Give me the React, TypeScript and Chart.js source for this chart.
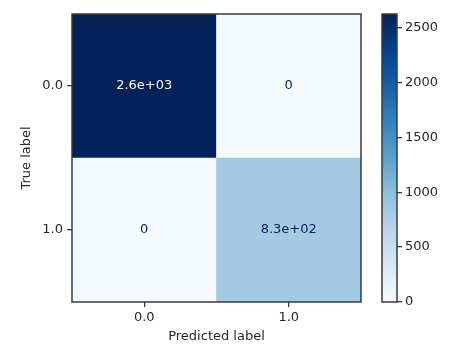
import React, { useEffect, useRef } from "react";
import { Chart, registerables } from "chart.js";
Chart.register(...registerables);

// ---- data ----
const predictedLabels = ["0.0", "1.0"];
const trueLabels = ["0.0", "1.0"];
const rowTrue0 = [2623, 0];
const rowTrue1 = [0, 830];
const colorbarTicks = [0, 500, 1000, 1500, 2000, 2500];
const xTitle = "Predicted label";
const yTitle = "True label";

// ---- styles ----
const FONT = "'DejaVu Sans', sans-serif";
const TEXT = "#262626";
const EDGE = "#3a3a3a";
const GAMMA = 1.2;
const BLUES = [
  [0.0, [247, 251, 255]],
  [0.125, [222, 235, 247]],
  [0.25, [198, 219, 239]],
  [0.375, [158, 202, 225]],
  [0.5, [107, 174, 214]],
  [0.625, [66, 146, 198]],
  [0.75, [33, 113, 181]],
  [0.875, [8, 81, 156]],
  [1.0, [8, 48, 107]],
] as [number, number[]][];

function blues(t: number): string {
  t = Math.max(0, Math.min(1, t));
  let c = BLUES[BLUES.length - 1][1];
  for (let i = 1; i < BLUES.length; i++) {
    const [t1, c1] = BLUES[i];
    const [t0, c0] = BLUES[i - 1];
    if (t <= t1) {
      const f = (t - t0) / (t1 - t0);
      c = c0.map((v, k) => v + (c1[k] - v) * f);
      break;
    }
  }
  const g = c.map((v) => Math.round(255 * Math.pow(v / 255, GAMMA)));
  return `rgb(${g[0]},${g[1]},${g[2]})`;
}

function fmt2g(v: number): string {
  if (v === 0) return "0";
  const e = Math.floor(Math.log10(Math.abs(v)));
  if (e < -4 || e >= 2) {
    let ee = e;
    let ms = (v / Math.pow(10, ee)).toFixed(1);
    if (parseFloat(ms) >= 10) { ee += 1; ms = (v / Math.pow(10, ee)).toFixed(1); }
    const sign = ee < 0 ? "-" : "+";
    const es = String(Math.abs(ee)).padStart(2, "0");
    return `${ms}e${sign}${es}`;
  }
  return String(parseFloat(v.toPrecision(2)));
}

const vmax = Math.max(...rowTrue0, ...rowTrue1);
const vmin = 0;

const boxPlugin = {
  id: "box",
  afterDraw(chart: any) {
    const { ctx, chartArea: a } = chart;
    ctx.save();
    ctx.strokeStyle = EDGE;
    ctx.lineWidth = 1.5;
    ctx.strokeRect(a.left, a.top, a.right - a.left, a.bottom - a.top);
    ctx.restore();
  },
};

const cellTextPlugin = {
  id: "cellText",
  afterDatasetsDraw(chart: any) {
    const { ctx } = chart;
    ctx.save();
    ctx.font = `13px ${FONT}`;
    ctx.textAlign = "center";
    ctx.textBaseline = "middle";
    chart.data.datasets.forEach((ds: any, di: number) => {
      const meta = chart.getDatasetMeta(di);
      meta.data.forEach((el: any, i: number) => {
        const v = ds.values[i];
        const thresh = (vmax + vmin) / 2;
        ctx.fillStyle = v > thresh ? blues(0) : blues(1);
        const cy = (el.y + el.base) / 2;
        ctx.fillText(fmt2g(v), el.x, cy);
      });
    });
    ctx.restore();
  },
};

export default function App() {
  const mainRef = useRef<HTMLCanvasElement>(null);
  const barRef = useRef<HTMLCanvasElement>(null);

  useEffect(() => {
    document.body.style.margin = "0";
    Chart.defaults.font.family = FONT;
    Chart.defaults.font.size = 13;
    Chart.defaults.color = TEXT;

    const rows = [rowTrue1, rowTrue0]; // bottom to top
    const datasets = rows.map((row, r) => ({
      label: trueLabels[trueLabels.length - 1 - r],
      data: predictedLabels.map(() => [r, r + 1]),
      values: row,
      backgroundColor: row.map((v) => blues((v - vmin) / (vmax - vmin))),
      borderWidth: 0,
      categoryPercentage: 1,
      barPercentage: 1,
    }));

    const main = new Chart(mainRef.current!, {
      type: "bar",
      data: { labels: predictedLabels, datasets: datasets as any },
      options: {
        animation: false,
        responsive: false,
        layout: { padding: { top: 14, right: 9, left: 0, bottom: 0 } },
        plugins: { legend: { display: false }, tooltip: { enabled: false } },
        scales: {
          x: {
            type: "category",
            stacked: true,
            offset: true,
            grid: { offset: false, drawOnChartArea: false, drawTicks: true, tickLength: 5, tickColor: EDGE, lineWidth: 1.3 },
            border: { display: false },
            ticks: { padding: 3, color: TEXT, font: { size: 13 } },
            title: { display: true, text: xTitle, color: TEXT, font: { size: 13 }, padding: { top: 0, bottom: 10 } },
            afterFit(scale: any) { scale.height = 52; },
          },
          y: {
            type: "linear",
            min: 0,
            max: trueLabels.length,
            stacked: false,
            grid: { drawOnChartArea: false, drawTicks: true, tickLength: 5, tickColor: EDGE, lineWidth: 1.3 },
            border: { display: false },
            afterBuildTicks(scale: any) {
              scale.ticks = trueLabels.map((_, i) => ({ value: i + 0.5 }));
            },
            ticks: {
              padding: 4,
              color: TEXT,
              font: { size: 13 },
              callback: (v: any) => trueLabels[trueLabels.length - 1 - Math.floor(Number(v))],
            },
            title: { display: true, text: yTitle, color: TEXT, font: { size: 13 }, padding: { top: 19, bottom: 0 } },
            afterFit(scale: any) { scale.width = 72; },
          },
        },
      } as any,
      plugins: [boxPlugin, cellTextPlugin],
    });

    const bar = new Chart(barRef.current!, {
      type: "bar",
      data: {
        labels: [""],
        datasets: [
          {
            data: [[vmin, vmax]],
            borderWidth: 0,
            categoryPercentage: 1,
            barPercentage: 1,
            backgroundColor: (c: any) => {
              const a = c.chart.chartArea;
              if (!a) return blues(0.5);
              const g = c.chart.ctx.createLinearGradient(0, a.bottom, 0, a.top);
              for (let i = 0; i <= 40; i++) g.addColorStop(i / 40, blues(i / 40));
              return g;
            },
          } as any,
        ],
      },
      options: {
        animation: false,
        responsive: false,
        layout: { padding: { top: 14, left: 12, right: 0, bottom: 52 } },
        plugins: { legend: { display: false }, tooltip: { enabled: false } },
        scales: {
          x: { display: false },
          y: {
            position: "right",
            min: vmin,
            max: vmax,
            grid: { drawOnChartArea: false, drawTicks: true, tickLength: 5, tickColor: EDGE, lineWidth: 1.3 },
            border: { display: false },
            afterBuildTicks(scale: any) {
              scale.ticks = colorbarTicks.map((v) => ({ value: v }));
            },
            ticks: { padding: 3, color: TEXT, font: { size: 13 }, callback: (v: any) => String(v) },
            afterFit(scale: any) { scale.width = 77; },
          },
        },
      } as any,
      plugins: [boxPlugin],
    });

    return () => {
      main.destroy();
      bar.destroy();
    };
  }, []);

  return (
    <div style={{ position: "absolute", left: 0, top: 0, width: 474, height: 354, background: "#fff" }}>
      <canvas ref={mainRef} width={370} height={354} style={{ position: "absolute", left: 0, top: 0, width: 370, height: 354 }} />
      <canvas ref={barRef} width={104} height={354} style={{ position: "absolute", left: 370, top: 0, width: 104, height: 354 }} />
    </div>
  );
}
